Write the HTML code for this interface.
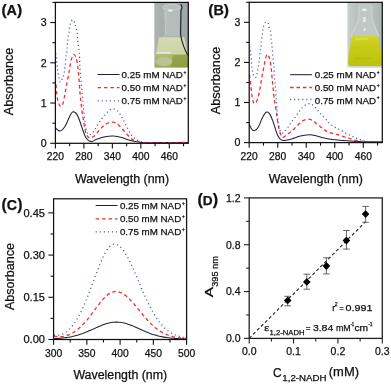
<!DOCTYPE html>
<html><head><meta charset="utf-8"><style>
html,body{margin:0;padding:0;background:#fff;}
body{width:391px;height:384px;overflow:hidden;}
svg{display:block;will-change:transform;filter:blur(0.3px);}
text{font-family:"Liberation Sans", sans-serif;stroke:#111;stroke-width:0.25px;}
</style></head><body>
<svg width="391" height="384" viewBox="0 0 391 384" font-family='"Liberation Sans", sans-serif' fill="#111">
<rect width="391" height="384" fill="#fff"/>

<defs>
 <filter id="pb" x="-5%" y="-5%" width="110%" height="110%"><feGaussianBlur stdDeviation="0.5"/></filter>
 <clipPath id="cpa"><rect x="154.3" y="2.5" width="34" height="65.2"/></clipPath>
 <clipPath id="cpb"><rect x="347.4" y="2.5" width="34.9" height="65.2"/></clipPath>
 <linearGradient id="ga" x1="0" y1="0" x2="1" y2="0">
  <stop offset="0" stop-color="#b0b5b2"/><stop offset="0.25" stop-color="#a8aeac"/><stop offset="0.5" stop-color="#b0b6b4"/><stop offset="0.8" stop-color="#a2a9a9"/><stop offset="1" stop-color="#9aa3a5"/>
 </linearGradient>
 <linearGradient id="gb" x1="0" y1="0" x2="1" y2="0">
  <stop offset="0" stop-color="#cdd2cc"/><stop offset="0.25" stop-color="#bac3be"/><stop offset="0.75" stop-color="#b3bebb"/><stop offset="1" stop-color="#a9b5b4"/>
 </linearGradient>
 <linearGradient id="la" x1="0" y1="0" x2="0" y2="1">
  <stop offset="0" stop-color="#d6dbb2"/><stop offset="0.5" stop-color="#cdd4a6"/><stop offset="0.56" stop-color="#b2bc74"/><stop offset="1" stop-color="#9eaa4c"/>
 </linearGradient>
 <linearGradient id="lb" x1="0" y1="0" x2="0" y2="1">
  <stop offset="0" stop-color="#d4d636"/><stop offset="0.3" stop-color="#c9cd16"/><stop offset="1" stop-color="#bcc20c"/>
 </linearGradient>
</defs>
<g clip-path="url(#cpa)"><g filter="url(#pb)">
 <rect x="153" y="1" width="37" height="68" fill="url(#ga)"/>
 <path d="M163,8 Q171,12 180,8 L179.5,36 L166.5,36 Z" fill="#b6bcba"/>
 <path d="M166.2,11 L165.5,34 L157.5,58" fill="none" stroke="#c8ccc6" stroke-width="0.9"/>
 <path d="M159.0,37.2 L184.4,37.2 L188.5,57 L188.5,67.3 L155.2,67.3 L155.6,57 Z" fill="url(#la)"/>
 <path d="M156,53.4 L187,53.4" stroke="#d9dcb8" stroke-width="1.4" opacity="0.8"/>
 <path d="M156.5,52.9 L171,52.6" stroke="#eceedc" stroke-width="1.2"/>
 <path d="M173,55 L188.5,55 L188.5,67.3 L171,67.3 Z" fill="#849434" opacity="0.55"/>
 <ellipse cx="164" cy="61.5" rx="8.5" ry="4.6" fill="#bec6a0" opacity="0.85"/>
 <path d="M180.6,4.2 Q183.2,7.2 181.0,10.5 L180.6,34 Q181.8,44 187.6,55" fill="none" stroke="#1f2424" stroke-width="1.15"/>
 <ellipse cx="171.5" cy="7.3" rx="8.8" ry="2.8" fill="#b8bebc" stroke="#d0d4d2" stroke-width="0.8"/>
 <rect x="168.4" y="9.6" width="4" height="1.9" fill="#f0f2f0"/>

</g></g>

<g clip-path="url(#cpb)"><g filter="url(#pb)">
 <rect x="346" y="1" width="38" height="68" fill="url(#gb)"/>
 <path d="M359,4 L372,4 L372,19 L379,36 L351,36 L359,19 Z" fill="#bfc8c5"/>
 <path d="M359,6 L359,19 L350.8,36.5 M372,6 L372,19 L379,36.5" fill="none" stroke="#d8ded9" stroke-width="0.8"/>
 <path d="M352.4,35.4 L377.8,35.4 Q380.2,46 381.8,56 L381.8,63 Q381.5,66.2 378,66.2 L351.5,66.2 Q348.2,66 348.2,62.5 L348.6,55 Q350.5,44 352.4,35.4 Z" fill="url(#lb)"/>
 <path d="M355,39 L368,39" stroke="#e2e45a" stroke-width="1.3" opacity="0.8"/>
 <path d="M354,58.5 L372,58.5" stroke="#b4b400" stroke-width="1.6" opacity="0.55"/>
 <path d="M350,48 L356,48" stroke="#c0c000" stroke-width="1.6" opacity="0.5"/>
 <rect x="362.2" y="8.8" width="4.2" height="2" fill="#f4f6f4"/>
 <rect x="363.2" y="17" width="2.4" height="5" fill="#e4eae8"/>
 <rect x="363.6" y="28" width="2" height="3" fill="#e4eae8"/>
 <rect x="346" y="66.3" width="38" height="1.6" fill="#d8dcd4"/>
</g></g>
<path d="M55.80,128.20 C56.17,128.53 57.27,129.73 58.00,130.20 C58.73,130.67 59.45,131.12 60.20,131.00 C60.95,130.88 61.63,130.37 62.50,129.50 C63.37,128.63 64.22,127.97 65.40,125.80 C66.58,123.63 68.50,118.72 69.60,116.50 C70.70,114.28 71.31,113.28 72.00,112.50 C72.69,111.72 72.93,111.48 73.75,111.80 C74.57,112.12 75.86,112.75 76.90,114.40 C77.94,116.05 78.97,118.93 80.00,121.70 C81.03,124.47 82.06,128.23 83.10,131.00 C84.14,133.77 85.20,136.63 86.25,138.30 C87.30,139.97 88.44,140.48 89.40,141.00 C90.36,141.52 90.68,141.72 92.00,141.40 C93.32,141.08 95.13,139.87 97.30,139.10 C99.47,138.33 102.32,137.30 105.00,136.80 C107.68,136.30 110.60,135.97 113.40,136.10 C116.20,136.23 119.12,136.92 121.80,137.60 C124.48,138.28 126.93,139.52 129.50,140.20 C132.07,140.88 134.62,141.30 137.20,141.70 C139.78,142.10 141.20,142.45 145.00,142.60 C148.80,142.75 152.83,142.62 160.00,142.60 C167.17,142.58 183.33,142.52 188.00,142.50" fill="none" stroke="#202038" stroke-width="1.05"/>
<path d="M56.00,84.50 C56.10,85.78 56.33,89.72 56.60,92.20 C56.87,94.68 57.08,97.18 57.60,99.40 C58.12,101.62 59.09,104.36 59.70,105.50 C60.31,106.64 60.70,106.57 61.25,106.25 C61.80,105.93 62.42,105.42 63.00,103.60 C63.58,101.77 64.20,97.85 64.70,95.30 C65.20,92.75 65.58,90.64 66.00,88.30 C66.42,85.96 66.74,83.60 67.20,81.25 C67.66,78.90 68.32,76.54 68.75,74.20 C69.18,71.86 69.36,69.67 69.80,67.20 C70.24,64.73 70.74,61.53 71.40,59.40 C72.06,57.27 72.97,54.67 73.75,54.40 C74.53,54.13 75.45,55.93 76.10,57.80 C76.75,59.67 77.27,63.00 77.65,65.60 C78.03,68.20 78.14,70.79 78.40,73.40 C78.66,76.01 78.98,78.65 79.20,81.25 C79.42,83.85 79.52,86.39 79.70,89.00 C79.88,91.61 80.04,94.28 80.30,96.90 C80.56,99.52 80.87,101.62 81.25,104.70 C81.63,107.78 82.21,112.75 82.60,115.40 C82.99,118.05 83.25,118.52 83.60,120.60 C83.95,122.68 84.26,125.67 84.70,127.90 C85.14,130.13 85.43,132.32 86.25,134.00 C87.07,135.68 88.27,137.67 89.60,138.00 C90.92,138.33 92.67,137.22 94.20,136.00 C95.73,134.78 97.27,132.35 98.80,130.70 C100.33,129.05 101.87,127.38 103.40,126.10 C104.93,124.82 106.33,123.65 108.00,123.00 C109.67,122.35 111.73,121.93 113.40,122.20 C115.07,122.47 116.47,123.43 118.00,124.60 C119.53,125.77 121.07,127.55 122.60,129.20 C124.13,130.85 125.67,132.85 127.20,134.50 C128.73,136.15 130.27,138.00 131.80,139.10 C133.33,140.20 134.70,140.53 136.40,141.10 C138.10,141.67 139.73,142.25 142.00,142.50 C144.27,142.75 142.33,142.60 150.00,142.60 C157.67,142.60 181.67,142.52 188.00,142.50" fill="none" stroke="#ee3030" stroke-width="1.30" stroke-dasharray="3.6,2.8"/>
<path d="M55.90,53.50 C56.02,54.25 56.37,55.53 56.60,58.00 C56.83,60.47 56.90,65.05 57.30,68.30 C57.70,71.55 58.47,75.17 59.00,77.50 C59.53,79.83 59.92,82.20 60.50,82.30 C61.08,82.40 61.90,79.62 62.50,78.10 C63.10,76.58 63.65,75.28 64.10,73.20 C64.55,71.12 64.90,68.30 65.20,65.60 C65.50,62.90 65.65,59.13 65.90,57.00 C66.15,54.87 66.52,54.15 66.70,52.80 C66.88,51.45 66.90,50.25 67.00,48.90 C67.10,47.55 67.18,46.15 67.30,44.70 C67.42,43.25 67.53,41.68 67.70,40.20 C67.87,38.72 68.07,37.22 68.30,35.80 C68.53,34.38 68.88,33.08 69.10,31.70 C69.32,30.32 69.35,28.98 69.60,27.50 C69.85,26.02 70.08,24.10 70.60,22.80 C71.12,21.50 72.00,19.62 72.70,19.70 C73.40,19.78 74.28,22.00 74.80,23.30 C75.32,24.60 75.45,26.13 75.80,27.50 C76.15,28.87 76.63,30.12 76.90,31.50 C77.17,32.88 77.27,34.38 77.40,35.80 C77.53,37.22 77.58,38.60 77.70,40.00 C77.82,41.40 77.92,42.82 78.10,44.20 C78.27,45.58 78.57,46.92 78.75,48.30 C78.93,49.68 79.04,50.38 79.20,52.50 C79.36,54.62 79.57,58.29 79.70,61.00 C79.83,63.71 79.82,65.90 80.00,68.75 C80.18,71.60 80.53,75.11 80.80,78.10 C81.07,81.09 81.35,83.83 81.60,86.70 C81.85,89.57 82.05,92.57 82.30,95.30 C82.55,98.03 82.83,100.55 83.10,103.10 C83.37,105.65 83.60,107.52 83.90,110.60 C84.20,113.68 84.48,118.27 84.90,121.60 C85.32,124.93 85.78,128.47 86.40,130.60 C87.02,132.73 87.93,133.77 88.60,134.40 C89.27,135.03 89.47,135.02 90.40,134.40 C91.33,133.78 92.80,132.60 94.20,130.70 C95.60,128.80 97.27,125.30 98.80,123.00 C100.33,120.70 101.87,118.82 103.40,116.90 C104.93,114.98 106.52,112.83 108.00,111.50 C109.48,110.17 110.77,109.03 112.30,108.90 C113.83,108.77 115.62,109.37 117.20,110.70 C118.78,112.03 120.27,114.33 121.80,116.90 C123.33,119.47 124.87,123.17 126.40,126.10 C127.93,129.03 129.47,132.33 131.00,134.50 C132.53,136.67 134.07,137.95 135.60,139.10 C137.13,140.25 138.63,140.83 140.20,141.40 C141.77,141.97 141.70,142.30 145.00,142.50 C148.30,142.70 152.83,142.60 160.00,142.60 C167.17,142.60 183.33,142.52 188.00,142.50" fill="none" stroke="#4058b8" stroke-width="1.30" stroke-dasharray="1.1,2.9"/>
<rect x="55.40" y="2.40" width="132.90" height="140.90" fill="none" stroke="#111" stroke-width="1.25"/>
<line x1="50.20" y1="143.30" x2="55.40" y2="143.30" stroke="#111" stroke-width="1.10" stroke-linecap="butt"/>
<text x="46.70" y="147.10" font-size="10.60" text-anchor="end">0</text>
<line x1="52.40" y1="123.17" x2="55.40" y2="123.17" stroke="#111" stroke-width="1.10" stroke-linecap="butt"/>
<line x1="50.20" y1="103.04" x2="55.40" y2="103.04" stroke="#111" stroke-width="1.10" stroke-linecap="butt"/>
<text x="46.70" y="106.84" font-size="10.60" text-anchor="end">1</text>
<line x1="52.40" y1="82.91" x2="55.40" y2="82.91" stroke="#111" stroke-width="1.10" stroke-linecap="butt"/>
<line x1="50.20" y1="62.79" x2="55.40" y2="62.79" stroke="#111" stroke-width="1.10" stroke-linecap="butt"/>
<text x="46.70" y="66.59" font-size="10.60" text-anchor="end">2</text>
<line x1="52.40" y1="42.66" x2="55.40" y2="42.66" stroke="#111" stroke-width="1.10" stroke-linecap="butt"/>
<line x1="50.20" y1="22.53" x2="55.40" y2="22.53" stroke="#111" stroke-width="1.10" stroke-linecap="butt"/>
<text x="46.70" y="26.33" font-size="10.60" text-anchor="end">3</text>
<line x1="52.40" y1="2.40" x2="55.40" y2="2.40" stroke="#111" stroke-width="1.10" stroke-linecap="butt"/>
<line x1="55.40" y1="143.30" x2="55.40" y2="148.50" stroke="#111" stroke-width="1.10" stroke-linecap="butt"/>
<text x="55.40" y="160.30" font-size="10.60" text-anchor="middle" textLength="17.20" lengthAdjust="spacingAndGlyphs">220</text>
<line x1="69.64" y1="143.30" x2="69.64" y2="146.30" stroke="#111" stroke-width="1.10" stroke-linecap="butt"/>
<line x1="83.88" y1="143.30" x2="83.88" y2="148.50" stroke="#111" stroke-width="1.10" stroke-linecap="butt"/>
<text x="83.88" y="160.30" font-size="10.60" text-anchor="middle" textLength="17.20" lengthAdjust="spacingAndGlyphs">280</text>
<line x1="98.12" y1="143.30" x2="98.12" y2="146.30" stroke="#111" stroke-width="1.10" stroke-linecap="butt"/>
<line x1="112.36" y1="143.30" x2="112.36" y2="148.50" stroke="#111" stroke-width="1.10" stroke-linecap="butt"/>
<text x="112.36" y="160.30" font-size="10.60" text-anchor="middle" textLength="17.20" lengthAdjust="spacingAndGlyphs">340</text>
<line x1="126.60" y1="143.30" x2="126.60" y2="146.30" stroke="#111" stroke-width="1.10" stroke-linecap="butt"/>
<line x1="140.84" y1="143.30" x2="140.84" y2="148.50" stroke="#111" stroke-width="1.10" stroke-linecap="butt"/>
<text x="140.84" y="160.30" font-size="10.60" text-anchor="middle" textLength="17.20" lengthAdjust="spacingAndGlyphs">400</text>
<line x1="155.07" y1="143.30" x2="155.07" y2="146.30" stroke="#111" stroke-width="1.10" stroke-linecap="butt"/>
<line x1="169.31" y1="143.30" x2="169.31" y2="148.50" stroke="#111" stroke-width="1.10" stroke-linecap="butt"/>
<text x="169.31" y="160.30" font-size="10.60" text-anchor="middle" textLength="17.20" lengthAdjust="spacingAndGlyphs">460</text>
<line x1="183.55" y1="143.30" x2="183.55" y2="146.30" stroke="#111" stroke-width="1.10" stroke-linecap="butt"/>
<text x="13.00" y="115.20" font-size="12.40" textLength="67.60" lengthAdjust="spacingAndGlyphs" transform="rotate(-90 13.00 115.20)">Absorbance</text>
<text x="74.90" y="182.60" font-size="12.00" textLength="94.20" lengthAdjust="spacingAndGlyphs">Wavelength (nm)</text>
<text x="1.40" y="14.6" font-weight="bold" textLength="20.8" lengthAdjust="spacingAndGlyphs"><tspan font-size="15.5">(</tspan><tspan font-size="14.3">A</tspan><tspan font-size="15.5">)</tspan></text>
<line x1="97.60" y1="74.50" x2="119.50" y2="74.50" stroke="#202038" stroke-width="1.05"/>
<line x1="97.60" y1="87.60" x2="119.50" y2="87.60" stroke="#ee3030" stroke-width="1.30" stroke-dasharray="3.5,2.9"/>
<line x1="97.60" y1="100.80" x2="119.50" y2="100.80" stroke="#4058b8" stroke-width="1.35" stroke-dasharray="1.1,2.95"/>
<text x="121.60" y="78.00" font-size="9.30" textLength="61.30" lengthAdjust="spacingAndGlyphs">0.25 mM NAD</text>
<text x="183.60" y="73.60" font-size="4.80">+</text>
<text x="121.60" y="91.10" font-size="9.30" textLength="61.30" lengthAdjust="spacingAndGlyphs">0.50 mM NAD</text>
<text x="183.60" y="86.70" font-size="4.80">+</text>
<text x="121.60" y="104.00" font-size="9.30" textLength="61.30" lengthAdjust="spacingAndGlyphs">0.75 mM NAD</text>
<text x="183.60" y="99.60" font-size="4.80">+</text>
<path d="M249.60,124.60 C249.88,125.28 250.52,127.68 251.30,128.70 C252.08,129.72 253.12,130.98 254.30,130.70 C255.48,130.42 257.13,128.99 258.40,127.00 C259.67,125.01 260.73,121.10 261.90,118.75 C263.07,116.40 264.47,114.01 265.40,112.90 C266.33,111.79 266.72,111.82 267.50,112.10 C268.28,112.38 269.28,113.30 270.10,114.60 C270.92,115.90 271.62,117.83 272.40,119.90 C273.18,121.97 274.02,124.65 274.80,127.00 C275.58,129.35 276.32,132.10 277.10,134.00 C277.88,135.90 278.58,137.33 279.50,138.40 C280.42,139.47 281.50,140.10 282.60,140.40 C283.70,140.70 284.48,140.48 286.10,140.20 C287.72,139.92 290.25,139.30 292.30,138.70 C294.35,138.10 296.35,137.18 298.40,136.60 C300.45,136.02 302.72,135.50 304.60,135.20 C306.48,134.90 308.00,134.75 309.70,134.80 C311.40,134.85 312.93,135.10 314.80,135.50 C316.67,135.90 318.52,136.63 320.90,137.20 C323.28,137.77 326.37,138.45 329.10,138.90 C331.83,139.35 334.23,139.60 337.30,139.90 C340.37,140.20 343.72,140.45 347.50,140.70 C351.28,140.95 355.92,141.22 360.00,141.40 C364.08,141.58 368.33,141.70 372.00,141.80 C375.67,141.90 380.33,141.97 382.00,142.00" fill="none" stroke="#202038" stroke-width="1.05"/>
<path d="M249.40,74.60 C249.55,75.75 250.00,79.13 250.30,81.50 C250.60,83.87 250.92,86.38 251.20,88.80 C251.48,91.22 251.67,93.83 252.00,96.00 C252.33,98.17 252.77,100.53 253.20,101.80 C253.63,103.07 254.13,103.47 254.60,103.60 C255.07,103.73 255.55,103.27 256.00,102.60 C256.45,101.93 256.82,101.03 257.30,99.60 C257.78,98.17 258.42,96.02 258.90,94.00 C259.38,91.98 259.80,89.75 260.20,87.50 C260.60,85.25 260.95,82.67 261.30,80.50 C261.65,78.33 261.88,76.72 262.30,74.50 C262.72,72.28 263.28,69.72 263.80,67.20 C264.32,64.68 264.87,61.53 265.40,59.40 C265.93,57.27 266.35,54.67 267.00,54.40 C267.65,54.13 268.65,55.93 269.30,57.80 C269.95,59.67 270.50,63.00 270.90,65.60 C271.30,68.20 271.45,70.79 271.70,73.40 C271.95,76.01 272.15,78.65 272.40,81.25 C272.65,83.85 272.95,86.39 273.20,89.00 C273.45,91.61 273.63,94.57 273.90,96.90 C274.17,99.23 274.42,100.73 274.80,103.00 C275.18,105.27 275.82,108.07 276.20,110.50 C276.58,112.93 276.78,115.25 277.10,117.60 C277.42,119.95 277.67,122.27 278.10,124.60 C278.53,126.93 279.12,129.67 279.70,131.60 C280.28,133.53 280.98,135.27 281.60,136.20 C282.22,137.13 282.65,137.35 283.40,137.20 C284.15,137.05 285.13,136.00 286.10,135.30 C287.07,134.60 288.17,133.77 289.20,133.00 C290.23,132.23 291.28,131.60 292.30,130.70 C293.32,129.80 294.15,128.75 295.30,127.60 C296.45,126.45 297.92,124.95 299.20,123.80 C300.48,122.65 301.47,121.47 303.00,120.70 C304.53,119.93 306.73,119.20 308.40,119.20 C310.07,119.20 311.60,119.93 313.00,120.70 C314.40,121.47 315.52,122.77 316.80,123.80 C318.08,124.83 319.42,125.88 320.70,126.90 C321.98,127.92 323.23,129.02 324.50,129.90 C325.77,130.78 326.90,131.60 328.30,132.20 C329.70,132.80 331.37,133.10 332.90,133.50 C334.43,133.90 335.75,134.08 337.50,134.60 C339.25,135.12 341.48,136.00 343.40,136.60 C345.32,137.20 347.25,137.62 349.00,138.20 C350.75,138.78 352.38,139.67 353.90,140.10 C355.42,140.53 356.45,140.57 358.10,140.80 C359.75,141.03 361.68,141.32 363.80,141.50 C365.92,141.68 367.77,141.82 370.80,141.90 C373.83,141.98 380.13,141.98 382.00,142.00" fill="none" stroke="#ee3030" stroke-width="1.30" stroke-dasharray="3.6,2.8"/>
<path d="M249.80,46.50 C249.93,47.35 250.35,49.45 250.60,51.60 C250.85,53.75 251.10,56.80 251.30,59.40 C251.50,62.00 251.53,64.98 251.80,67.20 C252.07,69.42 252.53,71.13 252.90,72.70 C253.27,74.27 253.48,75.83 254.00,76.60 C254.52,77.37 255.48,77.83 256.00,77.30 C256.52,76.77 256.77,74.83 257.10,73.40 C257.43,71.98 257.65,70.82 258.00,68.75 C258.35,66.68 258.82,63.86 259.20,61.00 C259.57,58.14 259.98,53.83 260.25,51.60 C260.52,49.37 260.62,48.98 260.80,47.60 C260.98,46.22 261.15,44.70 261.30,43.30 C261.45,41.90 261.53,40.62 261.70,39.20 C261.87,37.78 262.12,36.23 262.30,34.80 C262.48,33.37 262.53,32.02 262.75,30.60 C262.97,29.18 263.11,27.67 263.60,26.25 C264.09,24.83 264.97,22.68 265.70,22.10 C266.43,21.53 267.45,21.98 268.00,22.80 C268.55,23.62 268.60,25.73 269.00,27.00 C269.40,28.27 270.08,29.18 270.40,30.40 C270.72,31.62 270.78,32.91 270.90,34.30 C271.02,35.69 270.97,37.32 271.10,38.75 C271.23,40.18 271.53,41.56 271.70,42.90 C271.87,44.24 271.98,45.47 272.10,46.80 C272.22,48.13 272.22,48.80 272.40,50.90 C272.58,53.00 272.93,56.68 273.20,59.40 C273.47,62.12 273.82,64.60 274.00,67.20 C274.18,69.80 274.17,72.66 274.30,75.00 C274.43,77.34 274.58,78.92 274.80,81.25 C275.02,83.58 275.42,86.39 275.60,89.00 C275.78,91.61 275.70,94.28 275.90,96.90 C276.10,99.52 276.50,101.06 276.80,104.70 C277.10,108.34 277.35,115.12 277.70,118.75 C278.05,122.38 278.45,124.39 278.90,126.50 C279.35,128.61 279.83,130.28 280.40,131.40 C280.97,132.52 281.60,133.18 282.30,133.20 C283.00,133.22 283.70,132.43 284.60,131.50 C285.50,130.57 286.68,129.02 287.70,127.60 C288.72,126.18 289.68,124.40 290.70,123.00 C291.72,121.60 292.77,120.60 293.80,119.20 C294.83,117.80 295.88,116.02 296.90,114.60 C297.92,113.18 298.88,111.98 299.90,110.70 C300.92,109.42 301.83,107.97 303.00,106.90 C304.17,105.83 305.62,104.82 306.90,104.30 C308.18,103.78 309.55,103.50 310.70,103.80 C311.85,104.10 312.65,105.07 313.80,106.10 C314.95,107.13 316.33,108.58 317.60,110.00 C318.87,111.42 320.12,113.20 321.40,114.60 C322.68,116.00 324.02,117.00 325.30,118.40 C326.58,119.80 327.83,121.72 329.10,123.00 C330.37,124.28 331.62,125.23 332.90,126.10 C334.18,126.97 335.65,127.58 336.80,128.20 C337.95,128.82 338.60,129.15 339.80,129.80 C341.00,130.45 342.58,131.32 344.00,132.10 C345.42,132.88 346.88,133.80 348.30,134.50 C349.72,135.20 351.10,135.67 352.50,136.30 C353.90,136.93 355.28,137.72 356.70,138.30 C358.12,138.88 359.70,139.33 361.00,139.80 C362.30,140.27 363.10,140.78 364.50,141.10 C365.90,141.42 366.48,141.55 369.40,141.70 C372.32,141.85 379.90,141.95 382.00,142.00" fill="none" stroke="#4058b8" stroke-width="1.30" stroke-dasharray="1.1,2.9"/>
<rect x="249.20" y="2.30" width="133.10" height="140.30" fill="none" stroke="#111" stroke-width="1.25"/>
<line x1="244.00" y1="142.60" x2="249.20" y2="142.60" stroke="#111" stroke-width="1.10" stroke-linecap="butt"/>
<text x="240.50" y="146.40" font-size="10.60" text-anchor="end">0</text>
<line x1="246.20" y1="122.56" x2="249.20" y2="122.56" stroke="#111" stroke-width="1.10" stroke-linecap="butt"/>
<line x1="244.00" y1="102.51" x2="249.20" y2="102.51" stroke="#111" stroke-width="1.10" stroke-linecap="butt"/>
<text x="240.50" y="106.31" font-size="10.60" text-anchor="end">1</text>
<line x1="246.20" y1="82.47" x2="249.20" y2="82.47" stroke="#111" stroke-width="1.10" stroke-linecap="butt"/>
<line x1="244.00" y1="62.43" x2="249.20" y2="62.43" stroke="#111" stroke-width="1.10" stroke-linecap="butt"/>
<text x="240.50" y="66.23" font-size="10.60" text-anchor="end">2</text>
<line x1="246.20" y1="42.39" x2="249.20" y2="42.39" stroke="#111" stroke-width="1.10" stroke-linecap="butt"/>
<line x1="244.00" y1="22.34" x2="249.20" y2="22.34" stroke="#111" stroke-width="1.10" stroke-linecap="butt"/>
<text x="240.50" y="26.14" font-size="10.60" text-anchor="end">3</text>
<line x1="246.20" y1="2.30" x2="249.20" y2="2.30" stroke="#111" stroke-width="1.10" stroke-linecap="butt"/>
<line x1="249.20" y1="142.60" x2="249.20" y2="147.80" stroke="#111" stroke-width="1.10" stroke-linecap="butt"/>
<text x="249.20" y="159.60" font-size="10.60" text-anchor="middle" textLength="17.20" lengthAdjust="spacingAndGlyphs">220</text>
<line x1="263.46" y1="142.60" x2="263.46" y2="145.60" stroke="#111" stroke-width="1.10" stroke-linecap="butt"/>
<line x1="277.72" y1="142.60" x2="277.72" y2="147.80" stroke="#111" stroke-width="1.10" stroke-linecap="butt"/>
<text x="277.72" y="159.60" font-size="10.60" text-anchor="middle" textLength="17.20" lengthAdjust="spacingAndGlyphs">280</text>
<line x1="291.98" y1="142.60" x2="291.98" y2="145.60" stroke="#111" stroke-width="1.10" stroke-linecap="butt"/>
<line x1="306.24" y1="142.60" x2="306.24" y2="147.80" stroke="#111" stroke-width="1.10" stroke-linecap="butt"/>
<text x="306.24" y="159.60" font-size="10.60" text-anchor="middle" textLength="17.20" lengthAdjust="spacingAndGlyphs">340</text>
<line x1="320.50" y1="142.60" x2="320.50" y2="145.60" stroke="#111" stroke-width="1.10" stroke-linecap="butt"/>
<line x1="334.76" y1="142.60" x2="334.76" y2="147.80" stroke="#111" stroke-width="1.10" stroke-linecap="butt"/>
<text x="334.76" y="159.60" font-size="10.60" text-anchor="middle" textLength="17.20" lengthAdjust="spacingAndGlyphs">400</text>
<line x1="349.02" y1="142.60" x2="349.02" y2="145.60" stroke="#111" stroke-width="1.10" stroke-linecap="butt"/>
<line x1="363.29" y1="142.60" x2="363.29" y2="147.80" stroke="#111" stroke-width="1.10" stroke-linecap="butt"/>
<text x="363.29" y="159.60" font-size="10.60" text-anchor="middle" textLength="17.20" lengthAdjust="spacingAndGlyphs">460</text>
<line x1="377.55" y1="142.60" x2="377.55" y2="145.60" stroke="#111" stroke-width="1.10" stroke-linecap="butt"/>
<text x="220.30" y="114.30" font-size="12.40" textLength="67.60" lengthAdjust="spacingAndGlyphs" transform="rotate(-90 220.30 114.30)">Absorbance</text>
<text x="268.70" y="182.60" font-size="12.00" textLength="94.20" lengthAdjust="spacingAndGlyphs">Wavelength (nm)</text>
<text x="208.20" y="14.6" font-weight="bold" textLength="20.8" lengthAdjust="spacingAndGlyphs"><tspan font-size="15.5">(</tspan><tspan font-size="14.3">B</tspan><tspan font-size="15.5">)</tspan></text>
<line x1="290.10" y1="74.70" x2="311.90" y2="74.70" stroke="#202038" stroke-width="1.05"/>
<line x1="290.10" y1="87.50" x2="311.90" y2="87.50" stroke="#ee3030" stroke-width="1.30" stroke-dasharray="3.5,2.9"/>
<line x1="290.10" y1="99.50" x2="311.90" y2="99.50" stroke="#4058b8" stroke-width="1.35" stroke-dasharray="1.1,2.95"/>
<text x="314.80" y="78.00" font-size="9.30" textLength="61.30" lengthAdjust="spacingAndGlyphs">0.25 mM NAD</text>
<text x="376.80" y="73.60" font-size="4.80">+</text>
<text x="314.80" y="91.00" font-size="9.30" textLength="61.30" lengthAdjust="spacingAndGlyphs">0.50 mM NAD</text>
<text x="376.80" y="86.60" font-size="4.80">+</text>
<text x="314.80" y="103.60" font-size="9.30" textLength="61.30" lengthAdjust="spacingAndGlyphs">0.75 mM NAD</text>
<text x="376.80" y="99.20" font-size="4.80">+</text>
<path d="M54.00,338.63 C54.24,338.62 54.98,338.59 55.47,338.56 C55.96,338.53 56.44,338.51 56.93,338.48 C57.42,338.45 57.91,338.41 58.40,338.38 C58.89,338.34 59.38,338.31 59.87,338.27 C60.36,338.23 60.84,338.19 61.33,338.14 C61.82,338.10 62.31,338.05 62.80,338.00 C63.29,337.94 63.78,337.89 64.27,337.83 C64.76,337.77 65.24,337.71 65.73,337.64 C66.22,337.58 66.71,337.51 67.20,337.43 C67.69,337.36 68.18,337.28 68.67,337.20 C69.16,337.12 69.64,337.03 70.13,336.94 C70.62,336.85 71.11,336.75 71.60,336.65 C72.09,336.55 72.58,336.44 73.07,336.33 C73.56,336.22 74.04,336.11 74.53,335.99 C75.02,335.87 75.51,335.74 76.00,335.61 C76.49,335.48 76.98,335.34 77.47,335.20 C77.96,335.05 78.44,334.91 78.93,334.75 C79.42,334.60 79.91,334.44 80.40,334.28 C80.89,334.12 81.38,333.95 81.87,333.78 C82.36,333.60 82.84,333.43 83.33,333.24 C83.82,333.06 84.31,332.87 84.80,332.68 C85.29,332.49 85.78,332.29 86.27,332.09 C86.76,331.89 87.24,331.69 87.73,331.48 C88.22,331.28 88.71,331.07 89.20,330.85 C89.69,330.64 90.18,330.42 90.67,330.21 C91.16,329.99 91.64,329.77 92.13,329.55 C92.62,329.33 93.11,329.11 93.60,328.89 C94.09,328.66 94.58,328.44 95.07,328.22 C95.56,328.00 96.04,327.78 96.53,327.56 C97.02,327.34 97.51,327.12 98.00,326.91 C98.49,326.70 98.98,326.49 99.47,326.28 C99.96,326.07 100.44,325.87 100.93,325.67 C101.42,325.47 101.91,325.28 102.40,325.09 C102.89,324.90 103.38,324.72 103.87,324.54 C104.36,324.37 104.84,324.20 105.33,324.04 C105.82,323.88 106.31,323.73 106.80,323.59 C107.29,323.44 107.78,323.31 108.27,323.19 C108.76,323.06 109.24,322.95 109.73,322.84 C110.22,322.74 110.71,322.64 111.20,322.56 C111.69,322.48 112.18,322.40 112.67,322.34 C113.16,322.28 113.64,322.23 114.13,322.19 C114.62,322.15 115.11,322.13 115.60,322.11 C116.09,322.10 116.58,322.10 117.07,322.11 C117.56,322.11 118.04,322.14 118.53,322.17 C119.02,322.20 119.51,322.25 120.00,322.30 C120.49,322.36 120.98,322.42 121.47,322.50 C121.96,322.58 122.44,322.67 122.93,322.77 C123.42,322.87 123.91,322.98 124.40,323.10 C124.89,323.22 125.38,323.35 125.87,323.49 C126.36,323.63 126.84,323.78 127.33,323.93 C127.82,324.09 128.31,324.26 128.80,324.43 C129.29,324.60 129.78,324.78 130.27,324.96 C130.76,325.15 131.24,325.34 131.73,325.53 C132.22,325.73 132.71,325.93 133.20,326.14 C133.69,326.34 134.18,326.55 134.67,326.77 C135.16,326.98 135.64,327.19 136.13,327.41 C136.62,327.63 137.11,327.85 137.60,328.07 C138.09,328.29 138.58,328.51 139.07,328.73 C139.56,328.96 140.04,329.18 140.53,329.40 C141.02,329.62 141.51,329.84 142.00,330.06 C142.49,330.28 142.98,330.49 143.47,330.71 C143.96,330.92 144.44,331.13 144.93,331.34 C145.42,331.55 145.91,331.75 146.40,331.96 C146.89,332.16 147.38,332.36 147.87,332.55 C148.36,332.74 148.84,332.93 149.33,333.12 C149.82,333.30 150.31,333.48 150.80,333.66 C151.29,333.83 151.78,334.00 152.27,334.17 C152.76,334.33 153.24,334.49 153.73,334.65 C154.22,334.80 154.71,334.95 155.20,335.10 C155.69,335.24 156.18,335.38 156.67,335.52 C157.16,335.65 157.64,335.78 158.13,335.90 C158.62,336.03 159.11,336.14 159.60,336.26 C160.09,336.37 160.58,336.48 161.07,336.58 C161.56,336.69 162.04,336.78 162.53,336.88 C163.02,336.97 163.51,337.06 164.00,337.14 C164.49,337.23 164.98,337.31 165.47,337.38 C165.96,337.46 166.44,337.53 166.93,337.60 C167.42,337.67 167.91,337.73 168.40,337.79 C168.89,337.85 169.38,337.91 169.87,337.96 C170.36,338.01 170.84,338.06 171.33,338.11 C171.82,338.16 172.31,338.20 172.80,338.24 C173.29,338.28 173.78,338.32 174.27,338.36 C174.76,338.39 175.24,338.42 175.73,338.46 C176.22,338.49 176.71,338.51 177.20,338.54 C177.69,338.57 178.18,338.59 178.67,338.62 C179.16,338.64 179.64,338.66 180.13,338.68 C180.62,338.70 181.11,338.72 181.60,338.73 C182.09,338.75 182.58,338.77 183.07,338.78 C183.56,338.79 184.04,338.81 184.53,338.82 C185.02,338.83 185.76,338.85 186.00,338.85" fill="none" stroke="#202038" stroke-width="1.05"/>
<path d="M54.00,336.09 C54.24,336.14 54.98,336.30 55.47,336.38 C55.96,336.46 56.44,336.53 56.93,336.58 C57.42,336.64 57.91,336.68 58.40,336.71 C58.89,336.73 59.38,336.75 59.87,336.75 C60.36,336.74 60.84,336.73 61.33,336.69 C61.82,336.66 62.31,336.61 62.80,336.55 C63.29,336.48 63.78,336.40 64.27,336.30 C64.76,336.20 65.24,336.08 65.73,335.94 C66.22,335.81 66.71,335.65 67.20,335.48 C67.69,335.30 68.18,335.10 68.67,334.89 C69.16,334.69 69.64,334.46 70.13,334.23 C70.62,333.99 71.11,333.75 71.60,333.48 C72.09,333.22 72.58,332.94 73.07,332.65 C73.56,332.36 74.04,332.05 74.53,331.73 C75.02,331.40 75.51,331.07 76.00,330.71 C76.49,330.35 76.98,329.98 77.47,329.59 C77.96,329.21 78.44,328.80 78.93,328.38 C79.42,327.96 79.91,327.52 80.40,327.06 C80.89,326.61 81.38,326.14 81.87,325.65 C82.36,325.16 82.84,324.65 83.33,324.13 C83.82,323.61 84.31,323.08 84.80,322.53 C85.29,321.98 85.78,321.41 86.27,320.84 C86.76,320.26 87.24,319.67 87.73,319.06 C88.22,318.46 88.71,317.84 89.20,317.22 C89.69,316.60 90.18,315.96 90.67,315.32 C91.16,314.68 91.64,314.03 92.13,313.38 C92.62,312.73 93.11,312.07 93.60,311.41 C94.09,310.75 94.58,310.08 95.07,309.42 C95.56,308.76 96.04,308.10 96.53,307.45 C97.02,306.79 97.51,306.14 98.00,305.50 C98.49,304.86 98.98,304.22 99.47,303.60 C99.96,302.98 100.44,302.36 100.93,301.77 C101.42,301.17 101.91,300.59 102.40,300.03 C102.89,299.47 103.38,298.92 103.87,298.40 C104.36,297.88 104.84,297.38 105.33,296.90 C105.82,296.43 106.31,295.98 106.80,295.56 C107.29,295.14 107.78,294.74 108.27,294.38 C108.76,294.02 109.24,293.69 109.73,293.39 C110.22,293.09 110.71,292.82 111.20,292.59 C111.69,292.37 112.18,292.17 112.67,292.01 C113.16,291.85 113.64,291.73 114.13,291.65 C114.62,291.56 115.11,291.51 115.60,291.50 C116.09,291.49 116.58,291.52 117.07,291.57 C117.56,291.62 118.04,291.71 118.53,291.83 C119.02,291.94 119.51,292.09 120.00,292.27 C120.49,292.44 120.98,292.65 121.47,292.88 C121.96,293.12 122.44,293.38 122.93,293.67 C123.42,293.97 123.91,294.28 124.40,294.63 C124.89,294.97 125.38,295.34 125.87,295.73 C126.36,296.12 126.84,296.54 127.33,296.98 C127.82,297.41 128.31,297.87 128.80,298.35 C129.29,298.82 129.78,299.32 130.27,299.83 C130.76,300.34 131.24,300.86 131.73,301.40 C132.22,301.94 132.71,302.50 133.20,303.06 C133.69,303.62 134.18,304.20 134.67,304.78 C135.16,305.36 135.64,305.95 136.13,306.54 C136.62,307.14 137.11,307.74 137.60,308.34 C138.09,308.94 138.58,309.54 139.07,310.15 C139.56,310.75 140.04,311.36 140.53,311.96 C141.02,312.56 141.51,313.16 142.00,313.76 C142.49,314.35 142.98,314.95 143.47,315.53 C143.96,316.11 144.44,316.69 144.93,317.26 C145.42,317.83 145.91,318.40 146.40,318.95 C146.89,319.50 147.38,320.04 147.87,320.58 C148.36,321.11 148.84,321.63 149.33,322.14 C149.82,322.65 150.31,323.14 150.80,323.63 C151.29,324.11 151.78,324.58 152.27,325.04 C152.76,325.50 153.24,325.95 153.73,326.38 C154.22,326.81 154.71,327.23 155.20,327.63 C155.69,328.03 156.18,328.42 156.67,328.80 C157.16,329.17 157.64,329.53 158.13,329.88 C158.62,330.23 159.11,330.56 159.60,330.88 C160.09,331.20 160.58,331.51 161.07,331.80 C161.56,332.10 162.04,332.38 162.53,332.64 C163.02,332.91 163.51,333.17 164.00,333.41 C164.49,333.65 164.98,333.88 165.47,334.10 C165.96,334.32 166.44,334.53 166.93,334.73 C167.42,334.92 167.91,335.11 168.40,335.28 C168.89,335.46 169.38,335.63 169.87,335.78 C170.36,335.94 170.84,336.09 171.33,336.23 C171.82,336.36 172.31,336.49 172.80,336.62 C173.29,336.74 173.78,336.85 174.27,336.96 C174.76,337.07 175.24,337.17 175.73,337.26 C176.22,337.36 176.71,337.44 177.20,337.53 C177.69,337.61 178.18,337.68 178.67,337.75 C179.16,337.82 179.64,337.89 180.13,337.95 C180.62,338.01 181.11,338.07 181.60,338.12 C182.09,338.17 182.58,338.22 183.07,338.26 C183.56,338.31 184.04,338.35 184.53,338.39 C185.02,338.43 185.76,338.47 186.00,338.49" fill="none" stroke="#ee3030" stroke-width="1.30" stroke-dasharray="3.5,2.9"/>
<path d="M54.00,335.18 C54.24,335.20 54.98,335.26 55.47,335.27 C55.96,335.28 56.44,335.28 56.93,335.25 C57.42,335.22 57.91,335.18 58.40,335.11 C58.89,335.04 59.38,334.95 59.87,334.83 C60.36,334.72 60.84,334.58 61.33,334.42 C61.82,334.25 62.31,334.07 62.80,333.85 C63.29,333.63 63.78,333.39 64.27,333.12 C64.76,332.85 65.24,332.55 65.73,332.22 C66.22,331.88 66.71,331.52 67.20,331.12 C67.69,330.73 68.18,330.30 68.67,329.84 C69.16,329.38 69.64,328.90 70.13,328.39 C70.62,327.88 71.11,327.34 71.60,326.76 C72.09,326.19 72.58,325.59 73.07,324.96 C73.56,324.33 74.04,323.66 74.53,322.97 C75.02,322.27 75.51,321.54 76.00,320.78 C76.49,320.01 76.98,319.22 77.47,318.39 C77.96,317.55 78.44,316.69 78.93,315.79 C79.42,314.89 79.91,313.96 80.40,313.00 C80.89,312.03 81.38,311.04 81.87,310.01 C82.36,308.98 82.84,307.92 83.33,306.83 C83.82,305.74 84.31,304.61 84.80,303.47 C85.29,302.32 85.78,301.14 86.27,299.94 C86.76,298.75 87.24,297.52 87.73,296.28 C88.22,295.04 88.71,293.77 89.20,292.49 C89.69,291.21 90.18,289.91 90.67,288.61 C91.16,287.30 91.64,285.98 92.13,284.66 C92.62,283.34 93.11,282.01 93.60,280.69 C94.09,279.36 94.58,278.03 95.07,276.72 C95.56,275.41 96.04,274.09 96.53,272.80 C97.02,271.51 97.51,270.23 98.00,268.97 C98.49,267.72 98.98,266.48 99.47,265.27 C99.96,264.07 100.44,262.89 100.93,261.75 C101.42,260.62 101.91,259.51 102.40,258.45 C102.89,257.39 103.38,256.37 103.87,255.41 C104.36,254.44 104.84,253.52 105.33,252.66 C105.82,251.80 106.31,250.99 106.80,250.25 C107.29,249.51 107.78,248.82 108.27,248.21 C108.76,247.60 109.24,247.04 109.73,246.57 C110.22,246.09 110.71,245.68 111.20,245.34 C111.69,245.01 112.18,244.74 112.67,244.55 C113.16,244.37 113.64,244.26 114.13,244.21 C114.62,244.17 115.11,244.21 115.60,244.30 C116.09,244.38 116.58,244.53 117.07,244.73 C117.56,244.93 118.04,245.19 118.53,245.51 C119.02,245.82 119.51,246.19 120.00,246.62 C120.49,247.04 120.98,247.52 121.47,248.05 C121.96,248.58 122.44,249.16 122.93,249.79 C123.42,250.41 123.91,251.09 124.40,251.81 C124.89,252.53 125.38,253.30 125.87,254.10 C126.36,254.91 126.84,255.75 127.33,256.64 C127.82,257.52 128.31,258.44 128.80,259.39 C129.29,260.34 129.78,261.32 130.27,262.33 C130.76,263.34 131.24,264.38 131.73,265.43 C132.22,266.49 132.71,267.57 133.20,268.67 C133.69,269.77 134.18,270.88 134.67,272.01 C135.16,273.14 135.64,274.28 136.13,275.43 C136.62,276.57 137.11,277.73 137.60,278.89 C138.09,280.05 138.58,281.21 139.07,282.37 C139.56,283.53 140.04,284.69 140.53,285.85 C141.02,287.00 141.51,288.15 142.00,289.29 C142.49,290.43 142.98,291.57 143.47,292.69 C143.96,293.81 144.44,294.92 144.93,296.01 C145.42,297.10 145.91,298.18 146.40,299.24 C146.89,300.29 147.38,301.34 147.87,302.36 C148.36,303.38 148.84,304.38 149.33,305.36 C149.82,306.33 150.31,307.29 150.80,308.22 C151.29,309.16 151.78,310.06 152.27,310.95 C152.76,311.83 153.24,312.69 153.73,313.53 C154.22,314.36 154.71,315.17 155.20,315.95 C155.69,316.74 156.18,317.49 156.67,318.23 C157.16,318.96 157.64,319.66 158.13,320.34 C158.62,321.02 159.11,321.67 159.60,322.30 C160.09,322.93 160.58,323.54 161.07,324.11 C161.56,324.69 162.04,325.25 162.53,325.78 C163.02,326.31 163.51,326.81 164.00,327.30 C164.49,327.78 164.98,328.24 165.47,328.68 C165.96,329.12 166.44,329.54 166.93,329.93 C167.42,330.33 167.91,330.71 168.40,331.06 C168.89,331.42 169.38,331.76 169.87,332.08 C170.36,332.40 170.84,332.70 171.33,332.99 C171.82,333.27 172.31,333.54 172.80,333.79 C173.29,334.05 173.78,334.28 174.27,334.51 C174.76,334.73 175.24,334.94 175.73,335.14 C176.22,335.34 176.71,335.52 177.20,335.70 C177.69,335.87 178.18,336.03 178.67,336.18 C179.16,336.33 179.64,336.47 180.13,336.60 C180.62,336.74 181.11,336.86 181.60,336.97 C182.09,337.08 182.58,337.19 183.07,337.29 C183.56,337.39 184.04,337.48 184.53,337.56 C185.02,337.64 185.76,337.76 186.00,337.79" fill="none" stroke="#4058b8" stroke-width="1.30" stroke-dasharray="1.1,3.1"/>
<rect x="53.60" y="198.80" width="133.00" height="140.70" fill="none" stroke="#111" stroke-width="1.25"/>
<line x1="48.40" y1="339.50" x2="53.60" y2="339.50" stroke="#111" stroke-width="1.10" stroke-linecap="butt"/>
<text x="45.00" y="343.30" font-size="10.40" text-anchor="end" textLength="21.60" lengthAdjust="spacingAndGlyphs">0.00</text>
<line x1="50.60" y1="318.39" x2="53.60" y2="318.39" stroke="#111" stroke-width="1.10" stroke-linecap="butt"/>
<line x1="48.40" y1="297.29" x2="53.60" y2="297.29" stroke="#111" stroke-width="1.10" stroke-linecap="butt"/>
<text x="45.00" y="301.09" font-size="10.40" text-anchor="end" textLength="21.60" lengthAdjust="spacingAndGlyphs">0.15</text>
<line x1="50.60" y1="276.19" x2="53.60" y2="276.19" stroke="#111" stroke-width="1.10" stroke-linecap="butt"/>
<line x1="48.40" y1="255.08" x2="53.60" y2="255.08" stroke="#111" stroke-width="1.10" stroke-linecap="butt"/>
<text x="45.00" y="258.88" font-size="10.40" text-anchor="end" textLength="21.60" lengthAdjust="spacingAndGlyphs">0.30</text>
<line x1="50.60" y1="233.98" x2="53.60" y2="233.98" stroke="#111" stroke-width="1.10" stroke-linecap="butt"/>
<line x1="48.40" y1="212.87" x2="53.60" y2="212.87" stroke="#111" stroke-width="1.10" stroke-linecap="butt"/>
<text x="45.00" y="216.67" font-size="10.40" text-anchor="end" textLength="21.60" lengthAdjust="spacingAndGlyphs">0.45</text>
<line x1="53.60" y1="339.50" x2="53.60" y2="344.70" stroke="#111" stroke-width="1.10" stroke-linecap="butt"/>
<text x="53.60" y="356.50" font-size="10.60" text-anchor="middle" textLength="17.20" lengthAdjust="spacingAndGlyphs">300</text>
<line x1="70.22" y1="339.50" x2="70.22" y2="342.50" stroke="#111" stroke-width="1.10" stroke-linecap="butt"/>
<line x1="86.85" y1="339.50" x2="86.85" y2="344.70" stroke="#111" stroke-width="1.10" stroke-linecap="butt"/>
<text x="86.85" y="356.50" font-size="10.60" text-anchor="middle" textLength="17.20" lengthAdjust="spacingAndGlyphs">350</text>
<line x1="103.47" y1="339.50" x2="103.47" y2="342.50" stroke="#111" stroke-width="1.10" stroke-linecap="butt"/>
<line x1="120.10" y1="339.50" x2="120.10" y2="344.70" stroke="#111" stroke-width="1.10" stroke-linecap="butt"/>
<text x="120.10" y="356.50" font-size="10.60" text-anchor="middle" textLength="17.20" lengthAdjust="spacingAndGlyphs">400</text>
<line x1="136.72" y1="339.50" x2="136.72" y2="342.50" stroke="#111" stroke-width="1.10" stroke-linecap="butt"/>
<line x1="153.35" y1="339.50" x2="153.35" y2="344.70" stroke="#111" stroke-width="1.10" stroke-linecap="butt"/>
<text x="153.35" y="356.50" font-size="10.60" text-anchor="middle" textLength="17.20" lengthAdjust="spacingAndGlyphs">450</text>
<line x1="169.97" y1="339.50" x2="169.97" y2="342.50" stroke="#111" stroke-width="1.10" stroke-linecap="butt"/>
<line x1="186.60" y1="339.50" x2="186.60" y2="344.70" stroke="#111" stroke-width="1.10" stroke-linecap="butt"/>
<text x="186.60" y="356.50" font-size="10.60" text-anchor="middle" textLength="17.20" lengthAdjust="spacingAndGlyphs">500</text>
<text x="14.20" y="310.00" font-size="12.40" textLength="67.00" lengthAdjust="spacingAndGlyphs" transform="rotate(-90 14.20 310.00)">Absorbance</text>
<text x="73.40" y="378.60" font-size="12.00" textLength="93.80" lengthAdjust="spacingAndGlyphs">Wavelength (nm)</text>
<text x="1.6" y="210.2" font-weight="bold" textLength="20.8" lengthAdjust="spacingAndGlyphs"><tspan font-size="16">(</tspan><tspan font-size="14.4">C</tspan><tspan font-size="16">)</tspan></text>
<line x1="95.70" y1="205.50" x2="117.60" y2="205.50" stroke="#202038" stroke-width="1.05"/>
<line x1="95.70" y1="218.80" x2="117.60" y2="218.80" stroke="#ee3030" stroke-width="1.30" stroke-dasharray="3.5,2.9"/>
<line x1="95.70" y1="231.90" x2="117.60" y2="231.90" stroke="#4058b8" stroke-width="1.35" stroke-dasharray="1.1,2.95"/>
<text x="119.90" y="208.90" font-size="9.30" textLength="61.30" lengthAdjust="spacingAndGlyphs">0.25 mM NAD</text>
<text x="182.10" y="204.50" font-size="4.80">+</text>
<text x="119.90" y="222.20" font-size="9.30" textLength="61.30" lengthAdjust="spacingAndGlyphs">0.50 mM NAD</text>
<text x="182.10" y="217.80" font-size="4.80">+</text>
<text x="119.90" y="235.30" font-size="9.30" textLength="61.30" lengthAdjust="spacingAndGlyphs">0.75 mM NAD</text>
<text x="182.10" y="230.90" font-size="4.80">+</text>
<rect x="249.20" y="197.90" width="133.10" height="140.50" fill="none" stroke="#222" stroke-width="1.3"/>
<line x1="244.00" y1="338.40" x2="249.20" y2="338.40" stroke="#222" stroke-width="1.10" stroke-linecap="butt"/>
<text x="240.60" y="342.20" font-size="10.40" text-anchor="end" textLength="14.60" lengthAdjust="spacingAndGlyphs">0.0</text>
<line x1="246.20" y1="314.98" x2="249.20" y2="314.98" stroke="#222" stroke-width="1.10" stroke-linecap="butt"/>
<line x1="244.00" y1="291.57" x2="249.20" y2="291.57" stroke="#222" stroke-width="1.10" stroke-linecap="butt"/>
<text x="240.60" y="295.37" font-size="10.40" text-anchor="end" textLength="14.60" lengthAdjust="spacingAndGlyphs">0.4</text>
<line x1="246.20" y1="268.15" x2="249.20" y2="268.15" stroke="#222" stroke-width="1.10" stroke-linecap="butt"/>
<line x1="244.00" y1="244.73" x2="249.20" y2="244.73" stroke="#222" stroke-width="1.10" stroke-linecap="butt"/>
<text x="240.60" y="248.53" font-size="10.40" text-anchor="end" textLength="14.60" lengthAdjust="spacingAndGlyphs">0.8</text>
<line x1="246.20" y1="221.32" x2="249.20" y2="221.32" stroke="#222" stroke-width="1.10" stroke-linecap="butt"/>
<line x1="244.00" y1="197.90" x2="249.20" y2="197.90" stroke="#222" stroke-width="1.10" stroke-linecap="butt"/>
<text x="240.60" y="201.70" font-size="10.40" text-anchor="end" textLength="14.60" lengthAdjust="spacingAndGlyphs">1.2</text>
<line x1="249.20" y1="338.40" x2="249.20" y2="343.60" stroke="#222" stroke-width="1.10" stroke-linecap="butt"/>
<text x="249.20" y="355.40" font-size="10.40" text-anchor="middle" textLength="14.60" lengthAdjust="spacingAndGlyphs">0.0</text>
<line x1="271.38" y1="338.40" x2="271.38" y2="341.40" stroke="#222" stroke-width="1.10" stroke-linecap="butt"/>
<line x1="293.57" y1="338.40" x2="293.57" y2="343.60" stroke="#222" stroke-width="1.10" stroke-linecap="butt"/>
<text x="293.57" y="355.40" font-size="10.40" text-anchor="middle" textLength="14.60" lengthAdjust="spacingAndGlyphs">0.1</text>
<line x1="315.75" y1="338.40" x2="315.75" y2="341.40" stroke="#222" stroke-width="1.10" stroke-linecap="butt"/>
<line x1="337.93" y1="338.40" x2="337.93" y2="343.60" stroke="#222" stroke-width="1.10" stroke-linecap="butt"/>
<text x="337.93" y="355.40" font-size="10.40" text-anchor="middle" textLength="14.60" lengthAdjust="spacingAndGlyphs">0.2</text>
<line x1="360.12" y1="338.40" x2="360.12" y2="341.40" stroke="#222" stroke-width="1.10" stroke-linecap="butt"/>
<line x1="382.30" y1="338.40" x2="382.30" y2="343.60" stroke="#222" stroke-width="1.10" stroke-linecap="butt"/>
<text x="382.30" y="355.40" font-size="10.40" text-anchor="middle" textLength="14.60" lengthAdjust="spacingAndGlyphs">0.3</text>
<line x1="249.20" y1="338.40" x2="365.20" y2="222.00" stroke="#222" stroke-width="1.10" stroke-linecap="butt" stroke-dasharray="3.2,2.4"/>
<line x1="287.70" y1="296.30" x2="287.70" y2="305.80" stroke="#555" stroke-width="0.90" stroke-linecap="butt"/>
<line x1="284.40" y1="296.30" x2="291.00" y2="296.30" stroke="#555" stroke-width="0.90" stroke-linecap="butt"/>
<line x1="284.40" y1="305.80" x2="291.00" y2="305.80" stroke="#555" stroke-width="0.90" stroke-linecap="butt"/>
<path d="M287.70,296.50 L291.50,300.40 L287.70,304.30 L283.90,300.40 Z" fill="#000"/>
<line x1="306.80" y1="274.20" x2="306.80" y2="289.20" stroke="#555" stroke-width="0.90" stroke-linecap="butt"/>
<line x1="303.50" y1="274.20" x2="310.10" y2="274.20" stroke="#555" stroke-width="0.90" stroke-linecap="butt"/>
<line x1="303.50" y1="289.20" x2="310.10" y2="289.20" stroke="#555" stroke-width="0.90" stroke-linecap="butt"/>
<path d="M306.80,278.00 L310.60,281.90 L306.80,285.80 L303.00,281.90 Z" fill="#000"/>
<line x1="326.40" y1="257.80" x2="326.40" y2="273.90" stroke="#555" stroke-width="0.90" stroke-linecap="butt"/>
<line x1="323.10" y1="257.80" x2="329.70" y2="257.80" stroke="#555" stroke-width="0.90" stroke-linecap="butt"/>
<line x1="323.10" y1="273.90" x2="329.70" y2="273.90" stroke="#555" stroke-width="0.90" stroke-linecap="butt"/>
<path d="M326.40,262.10 L330.20,266.00 L326.40,269.90 L322.60,266.00 Z" fill="#000"/>
<line x1="346.40" y1="230.50" x2="346.40" y2="249.10" stroke="#555" stroke-width="0.90" stroke-linecap="butt"/>
<line x1="343.10" y1="230.50" x2="349.70" y2="230.50" stroke="#555" stroke-width="0.90" stroke-linecap="butt"/>
<line x1="343.10" y1="249.10" x2="349.70" y2="249.10" stroke="#555" stroke-width="0.90" stroke-linecap="butt"/>
<path d="M346.40,236.60 L350.20,240.50 L346.40,244.40 L342.60,240.50 Z" fill="#000"/>
<line x1="365.60" y1="206.40" x2="365.60" y2="222.30" stroke="#555" stroke-width="0.90" stroke-linecap="butt"/>
<line x1="362.30" y1="206.40" x2="368.90" y2="206.40" stroke="#555" stroke-width="0.90" stroke-linecap="butt"/>
<line x1="362.30" y1="222.30" x2="368.90" y2="222.30" stroke="#555" stroke-width="0.90" stroke-linecap="butt"/>
<path d="M365.60,210.20 L369.40,214.10 L365.60,218.00 L361.80,214.10 Z" fill="#000"/>
<text x="197.5" y="204.8" font-weight="bold" textLength="20.6" lengthAdjust="spacingAndGlyphs"><tspan font-size="15.8">(</tspan><tspan font-size="13.4">D</tspan><tspan font-size="15.8">)</tspan></text>
<g transform="translate(213.3 297.2) rotate(-90)"><text x="0" y="0" font-size="11.8" textLength="10.2" lengthAdjust="spacingAndGlyphs">A</text><text x="10.4" y="4.9" font-size="8.2" textLength="30.6" lengthAdjust="spacingAndGlyphs">395 nm</text></g>
<text x="273.00" y="376.60" font-size="12.00" textLength="8.60" lengthAdjust="spacingAndGlyphs">C</text>
<text x="282.30" y="380.50" font-size="8.40" textLength="44.20" lengthAdjust="spacingAndGlyphs">1,2-NADH</text>
<text x="328.80" y="376.40" font-size="12.00" textLength="30.20" lengthAdjust="spacingAndGlyphs">(mM)</text>
<text x="332.20" y="310.50" font-size="9.20" textLength="3.00" lengthAdjust="spacingAndGlyphs">r</text>
<text x="334.80" y="306.40" font-size="5.60" textLength="2.90" lengthAdjust="spacingAndGlyphs">2</text>
<text x="339.60" y="310.50" font-size="9.20" textLength="4.20" lengthAdjust="spacingAndGlyphs">=</text>
<text x="345.60" y="310.50" font-size="9.20" textLength="26.90" lengthAdjust="spacingAndGlyphs">0.991</text>
<text x="264.20" y="330.80" font-size="9.60" textLength="5.00" lengthAdjust="spacingAndGlyphs">ε</text>
<text x="269.50" y="334.50" font-size="7.60" textLength="35.00" lengthAdjust="spacingAndGlyphs">1,2-NADH</text>
<text x="305.80" y="330.80" font-size="9.60" textLength="4.80" lengthAdjust="spacingAndGlyphs">=</text>
<text x="312.90" y="330.80" font-size="9.60" textLength="20.40" lengthAdjust="spacingAndGlyphs">3.84</text>
<text x="335.90" y="330.80" font-size="9.60" textLength="14.80" lengthAdjust="spacingAndGlyphs">mM</text>
<text x="350.40" y="325.60" font-size="5.40" textLength="3.90" lengthAdjust="spacingAndGlyphs">-1</text>
<text x="354.40" y="330.80" font-size="9.60" textLength="13.70" lengthAdjust="spacingAndGlyphs">cm</text>
<text x="368.20" y="325.60" font-size="5.40" textLength="4.40" lengthAdjust="spacingAndGlyphs">-1</text>
</svg>
</body></html>
